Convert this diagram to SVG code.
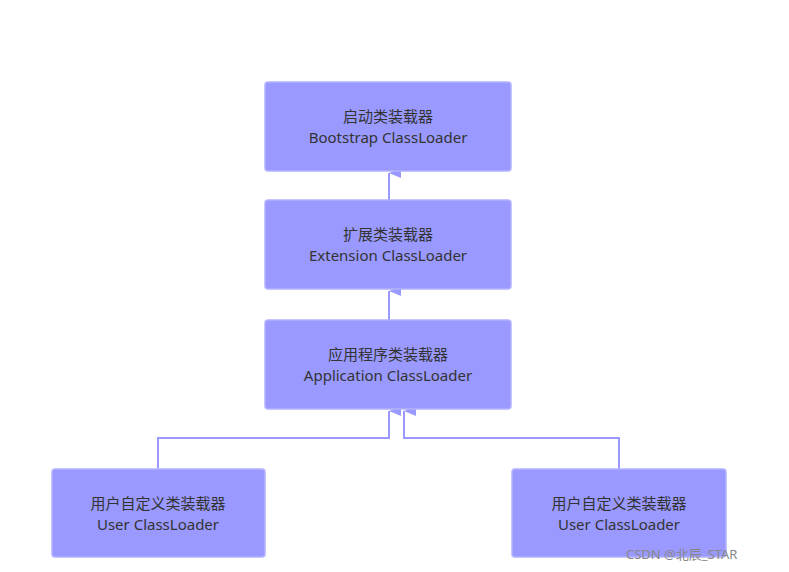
<svg xmlns="http://www.w3.org/2000/svg" width="789" height="572" viewBox="0 0 789 572">
<style>
.box{fill:#9999ff;stroke:#b3b3ff;stroke-width:1.5}
.t{font-family:"Noto Sans","Noto Sans CJK SC",sans-serif;font-size:15px;fill:#333;text-anchor:middle}
.c{fill:none;stroke:#9999ff;stroke-width:2}
.wm{font-family:"Noto Sans","Noto Sans CJK SC",sans-serif;font-size:13px;fill:#888}
</style>
<defs><marker id="a" viewBox="0 0 10 12" refX="5" refY="0" markerWidth="10" markerHeight="12" markerUnits="userSpaceOnUse" orient="auto-start-reverse"><path d="M0,12 L5,0 L10,12 Z" fill="#9999ff"/></marker></defs>
<rect width="789" height="572" fill="#fff"/>
<g id="connectors">
<path class="c" d="M389,200 V173" marker-end="url(#a)"/>
<path class="c" d="M389,320 V291" marker-end="url(#a)"/>
<path class="c" d="M158,469 V438 H389 V411" marker-end="url(#a)"/>
<path class="c" d="M619,469 V438 H404 V411" marker-end="url(#a)"/>
</g>
<g id="bootstrap"><rect class="box" x="265" y="82" width="246" height="89" rx="3"/><text class="t" x="388" y="122">启动类装载器</text><text class="t" x="388" y="143">Bootstrap ClassLoader</text></g>
<g id="extension"><rect class="box" x="265" y="200" width="246" height="89" rx="3"/><text class="t" x="388" y="240">扩展类装载器</text><text class="t" x="388" y="261">Extension ClassLoader</text></g>
<g id="application"><rect class="box" x="265" y="320" width="246" height="89" rx="3"/><text class="t" x="388" y="360">应用程序类装载器</text><text class="t" x="388" y="381">Application ClassLoader</text></g>
<g id="user1"><rect class="box" x="52" y="469" width="213" height="88" rx="3"/><text class="t" x="158" y="509">用户自定义类装载器</text><text class="t" x="158" y="530">User ClassLoader</text></g>
<g id="user2"><rect class="box" x="512" y="469" width="214" height="88" rx="3"/><text class="t" x="619" y="509">用户自定义类装载器</text><text class="t" x="619" y="530">User ClassLoader</text></g>
<text class="wm" x="626" y="559">CSDN @北辰_STAR</text>
</svg>
